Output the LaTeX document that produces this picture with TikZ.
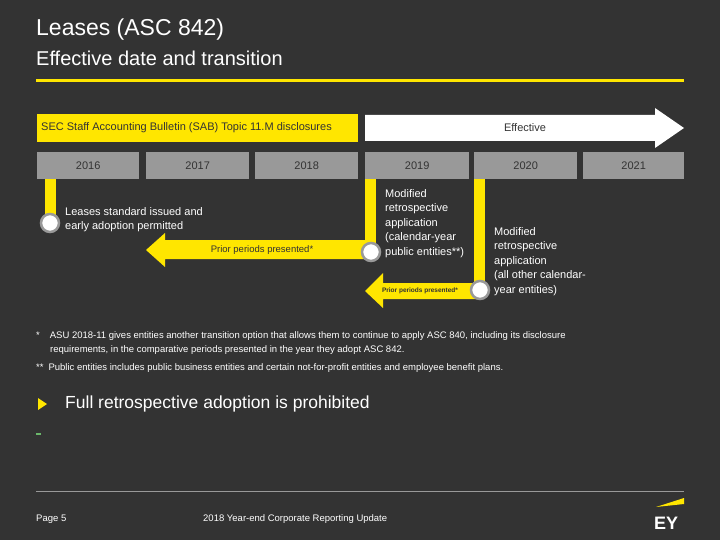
\documentclass[tikz,border=0pt]{standalone}
\usepackage{fontspec}
\setmainfont{Liberation Sans}
\definecolor{bg}{HTML}{333333}
\definecolor{eyy}{HTML}{FFE600}
\definecolor{yrg}{HTML}{999999}
\begin{document}
\begin{tikzpicture}[x=1pt,y=-1pt,
  yearbox/.style={fill=yrg,minimum width=104pt,minimum height=27pt,inner sep=0pt,font=\fontsize{11}{13}\selectfont,text=bg,anchor=north west},
  dot/.style={circle,fill=white,draw=yrg,line width=2.5pt,minimum size=18pt,inner sep=0pt},
  stem/.style={fill=eyy},
  lbl/.style={text=white,font=\fontsize{11}{14.5}\selectfont,align=left,anchor=north west,inner sep=0pt},
  foot/.style={text=white,font=\fontsize{9.5}{14}\selectfont,anchor=west,inner sep=0pt}]
\fill[bg] (0,0) rectangle (720,540);
\useasboundingbox (0,0) rectangle (720,540);
\node[anchor=west,text=white,inner sep=0pt,font=\fontsize{23}{26}\selectfont] (t1) at (36,30) {Leases (ASC 842)};
\node[anchor=west,text=white,inner sep=0pt,font=\fontsize{20}{24}\selectfont] (t2) at (36,58) {Effective date and transition};
\draw[eyy,line width=3pt] (36,81) -- (684,81);
% top bars
\fill[eyy] (37,114) rectangle (358,142);
\node[anchor=west,inner sep=0pt,text=bg,font=\fontsize{11}{13}\selectfont] (sab) at (41,128) {SEC Staff Accounting Bulletin (SAB) Topic 11.M disclosures};
\fill[white] (365,115) -- (655,115) -- (655,108) -- (684,128) -- (655,148) -- (655,141) -- (365,141) -- cycle;
\node[text=bg,font=\fontsize{11}{13}\selectfont] (eff) at (525,128) {Effective};
% years
\node[yearbox,minimum width=102pt] (y16) at (37,152) {2016};
\node[yearbox,minimum width=103pt] (y17) at (146,152) {2017};
\node[yearbox,minimum width=103pt] (y18) at (255,152) {2018};
\node[yearbox] (y19) at (365,152) {2019};
\node[yearbox,minimum width=103pt] (y20) at (474,152) {2020};
\node[yearbox,minimum width=101pt] (y21) at (583,152) {2021};
% stems
\fill[stem] (45,179) rectangle (56,222);
\fill[stem] (365,179) rectangle (376,252);
\fill[stem] (474,179) rectangle (485,290);
% arrows
\fill[eyy] (371,240) -- (165,240) -- (165,233) -- (146,250) -- (165,267) -- (165,259) -- (371,259) -- cycle;
\node[text=bg,font=\fontsize{9.5}{11}\selectfont] (pp1) at (262,250) {Prior periods presented*};
\fill[eyy] (479,283) -- (383,283) -- (383,273) -- (365,291) -- (383,308) -- (383,299) -- (479,299) -- cycle;
\node[text=bg,font=\bfseries\fontsize{6.5}{8}\selectfont] (pp2) at (420,291) {Prior periods presented*};
% dots
\node[dot] (d1) at (50,223) {};
\node[dot] (d2) at (371,252) {};
\node[dot] (d3) at (480,290) {};
% labels
\node[lbl] (l1) at (65,207) {Leases standard issued and\\early adoption permitted};
\node[lbl] (l2) at (385,189) {Modified\\retrospective\\application\\(calendar-year\\public entities**)};
\node[lbl] (l3) at (494,227) {Modified\\retrospective\\application\\(all other calendar-\\year entities)};
% footnotes
\node[foot] (f1a) at (36,336) {*\hspace{10pt}ASU 2018-11 gives entities another transition option that allows them to continue to apply ASC 840, including its disclosure};
\node[foot] (f1b) at (50,350) {requirements, in the comparative periods presented in the year they adopt ASC 842.};
\node[foot] (f2) at (36,368) {**\hspace{5pt}Public entities includes public business entities and certain not-for-profit entities and employee benefit plans.};
% bullet
\fill[eyy] (38,398) -- (47,404) -- (38,410) -- cycle;
\node[anchor=west,inner sep=0pt,text=white,font=\fontsize{17.5}{20}\selectfont] (b1) at (65,404) {Full retrospective adoption is prohibited};
\draw[yrg!70!green,line width=1.2pt] (36,434) -- (41,434);
% footer
\draw[yrg,line width=0.8pt] (36,491) -- (684,491);
\node[anchor=west,inner sep=0pt,text=white,font=\fontsize{9.5}{11}\selectfont] (pg) at (36,519) {Page 5};
\node[anchor=west,inner sep=0pt,text=white,font=\fontsize{9.5}{11}\selectfont] (ft) at (203,519) {2018 Year-end Corporate Reporting Update};
\fill[eyy] (656,507) -- (684,498) -- (684,504) -- cycle;
\node[text=white,inner sep=0pt,font=\bfseries\fontsize{18}{20}\selectfont] (ey) at (666,523) {EY};
\end{tikzpicture}
\end{document}
